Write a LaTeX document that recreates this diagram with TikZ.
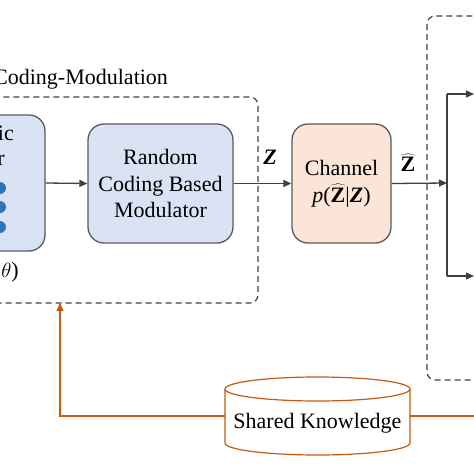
\documentclass[tikz,border=0pt]{standalone}
\usepackage{fontspec}
\setmainfont{Liberation Serif}
\newfontfamily\timesf{Liberation Serif}
\usetikzlibrary{arrows.meta}
\definecolor{boxblue}{HTML}{DAE3F3}
\definecolor{boxpeach}{HTML}{FBE5D6}
\definecolor{edgec}{HTML}{5A5A5A}
\definecolor{orng}{HTML}{C55A11}
\definecolor{dashc}{HTML}{404040}
\definecolor{dotblue}{HTML}{2E75B6}
\begin{document}
\begin{tikzpicture}[x=1pt,y=-1pt,
  font=\timesf\fontsize{22}{26.5}\selectfont,
  blockbox/.style={draw=edgec, line width=1.3pt, rounded corners=16pt, inner sep=0pt, align=center},
  flow/.style={draw=dashc, line width=1.3pt, -{Triangle[length=8pt,width=7pt]}},
  groupbox/.style={draw=dashc, line width=1.2pt, dash pattern=on 6pt off 4pt, rounded corners=8pt},
  fb/.style={draw=orng, line width=1.2pt},
  fbarrow/.style={draw=orng, line width=1.2pt, -{Triangle[length=8pt,width=7pt]}},
  dotc/.style={circle, fill=dotblue, minimum size=12pt, inner sep=0pt}]
\useasboundingbox (0,0) rectangle (474,474);

% dashed group boxes
\draw[groupbox] (-20,97) rectangle (258,303);
\draw[groupbox] (427,16) rectangle (520,380);
\node[anchor=base west, inner sep=0pt] (cmlabel) at (-7,84) {Coding-Modulation};

% blocks
\node[blockbox, fill=boxblue, minimum width=170pt, minimum height=136pt] (enc) at (-40,183) {};
\node[anchor=base east, inner sep=0pt] (enct1) at (14,140) {ic};
\node[anchor=base east, inner sep=0pt] (enct2) at (5,165) {r};
\node[dotc] (d1) at (0,188) {};
\node[dotc] (d2) at (0,207) {};
\node[dotc] (d3) at (0,227) {};
\node[anchor=base east, inner sep=0pt] (theta) at (19,277) {$\theta$)};

\node[blockbox, fill=boxblue, minimum width=145pt, minimum height=119pt] (rcm) at (160.5,183.5)
  {Random\\Coding Based\\Modulator};
\node[blockbox, fill=boxpeach, minimum width=99pt, minimum height=119pt] (chan) at (341.5,183.5)
  {Channel\\\textit{p}($\widehat{\hbox{\bfseries Z}}$|\textbf{\textit{Z}})};

% receiver side
\coordinate (split) at (447,183);
\coordinate (stop) at (447,94);
\coordinate (sbot) at (447,276);
\coordinate (out1) at (474,94);
\coordinate (out2) at (474,276);

\draw[flow] (enc.east) -- (rcm.west);
\draw[flow] (rcm.east) -- (chan.west);
\node (zlab) at (270,157) {\textbf{\textit{Z}}};
\draw[flow] (chan.east) -- (split);
\node (zhlab) at (408,163) {$\widehat{\hbox{\bfseries Z}}$};
\draw[draw=dashc, line width=1.3pt] (stop) -- (sbot);
\draw[flow] (stop) -- (out1);
\draw[flow] (sbot) -- (out2);

% shared knowledge cylinder
\node[minimum width=185pt, minimum height=66pt, inner sep=0pt] (sk) at (317.5,422) {};
\draw[fb, fill=white] (225,389) -- (225,443) arc[start angle=180, end angle=360, x radius=92.5pt, y radius=12pt] -- (410,389);
\draw[fb, fill=white] (317.5,389) ellipse [x radius=92.5pt, y radius=12pt];
\node (sktext) at (317.5,423) {Shared Knowledge};

\coordinate (cmbot) at (60,303);
\coordinate (skout) at (474,416);
\draw[fbarrow] ([yshift=6pt]sk.west) -| (cmbot);
\draw[fb] ([yshift=6pt]sk.east) -- (skout);
\end{tikzpicture}
\end{document}
